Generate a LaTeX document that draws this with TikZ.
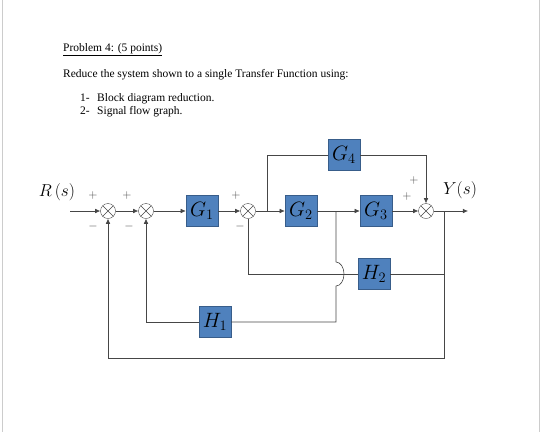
\documentclass[tikz,border=0pt]{standalone}
\usepackage{amsmath}
\usepackage{fontspec}
\setmainfont{Liberation Serif}
\usepackage{tikz}
\usetikzlibrary{arrows.meta, positioning, calc}
\tikzset{>={Latex[width=1.6mm,length=1.8mm]}}
\definecolor{blockFill}{RGB}{79,129,189}
\definecolor{blockLine}{RGB}{56,93,138}
\definecolor{wireColor}{RGB}{70,70,70}

\begin{document}
\begin{tikzpicture}[
    x = 1pt, y = -1pt,
    blk/.style = {draw=blockLine, fill=blockFill, minimum width=32pt,
        minimum height=31pt, inner sep=0pt, font=\fontsize{20}{22}\selectfont},
    sumnode/.style = {draw=wireColor, fill=white, circle, minimum size=15pt,
        inner sep=0pt, path picture={
          \draw[wireColor] (path picture bounding box.north west) -- (path picture bounding box.south east)
                           (path picture bounding box.north east) -- (path picture bounding box.south west);}},
    sgn/.style = {text=wireColor, inner sep=0pt, font=\fontsize{13}{14}\selectfont},
    wire/.style = {draw=wireColor, semithick},
    txt/.style = {anchor=base west, inner sep=0pt, font=\fontsize{11.5}{13}\selectfont}
  ]
  \useasboundingbox (0,0) rectangle (540,432);
  \draw[black!20, thick] (2,0) -- (2,432) (539,0) -- (539,432);

  % task text
  \node[txt] (title) at (63,51) {\underline{Problem 4: (5 points)}};
  \node[txt] (task) at (63,77) {Reduce the system shown to a single Transfer Function using:};
  \node[txt] (num1) at (80,101) {1-};
  \node[txt] (item1) at (97,101) {Block diagram reduction.};
  \node[txt] (num2) at (80,114) {2-};
  \node[txt] (item2) at (97,114) {Signal flow graph.};

  % blocks and summing points
  \coordinate (Rin) at (70,211);
  \node[sumnode] (S1) at (108,211) {};
  \node[sumnode] (S2) at (146,211) {};
  \node[blk] (G1) at (202,211) {$G_1$};
  \node[sumnode] (S3) at (248,211) {};
  \coordinate (B1) at (267,211);
  \node[blk] (G2) at (301,211) {$G_2$};
  \coordinate (B2) at (336,211);
  \node[blk] (G3) at (376,211) {$G_3$};
  \node[sumnode] (S4) at (426,211) {};
  \coordinate (B3) at (444,211);
  \coordinate (Yout) at (468,211);
  \node[blk] (G4) at (344,155) {$G_4$};
  \node[blk] (H2) at (374,274) {$H_2$};
  \node[blk] (H1) at (215,322) {$H_1$};

  \node[anchor=base, font=\fontsize{16}{18}\selectfont] (R) at (57,196) {$R\,(s)$};
  \node[anchor=base, font=\fontsize{16}{18}\selectfont] (Y) at (460,194) {$Y(s)$};

  % signs
  \foreach \x/\y [count=\i] in {93/195, 127/195, 236/195, 414/180, 407/196}
    \node[sgn] (plus\i) at (\x,\y) {$+$};
  \foreach \x/\y [count=\i] in {93/226, 129/226, 240/226}
    \node[sgn] (minus\i) at (\x,\y) {$-$};

  % forward path
  \draw[wire,->] (Rin) -- (S1);
  \draw[wire,->] (S1) -- (S2);
  \draw[wire,->] (S2) -- (G1);
  \draw[wire,->] (G1) -- (S3);
  \draw[wire,->] (S3) -- (G2);
  \draw[wire,->] (G2) -- (G3);
  \draw[wire,->] (G3) -- (S4);
  \draw[wire,->] (S4) -- (Yout);
  \draw[wire] (B1) |- (G4);
  \draw[wire,->] (G4) -| (S4);

  % feedback paths
  \draw[wire] (B3) |- (H2);
  \draw[wire] (H2) -| (S3);
  \draw[wire] (B2) -- ($(B2)+(0,51)$)
    arc[start angle=-90, end angle=90, x radius=8, y radius=12] |- (H1);
  \draw[wire,->] (H1) -| (S2);
  \draw[wire,->] (B3) -- ++(0,147) -| (S1);
\end{tikzpicture}
\end{document}
